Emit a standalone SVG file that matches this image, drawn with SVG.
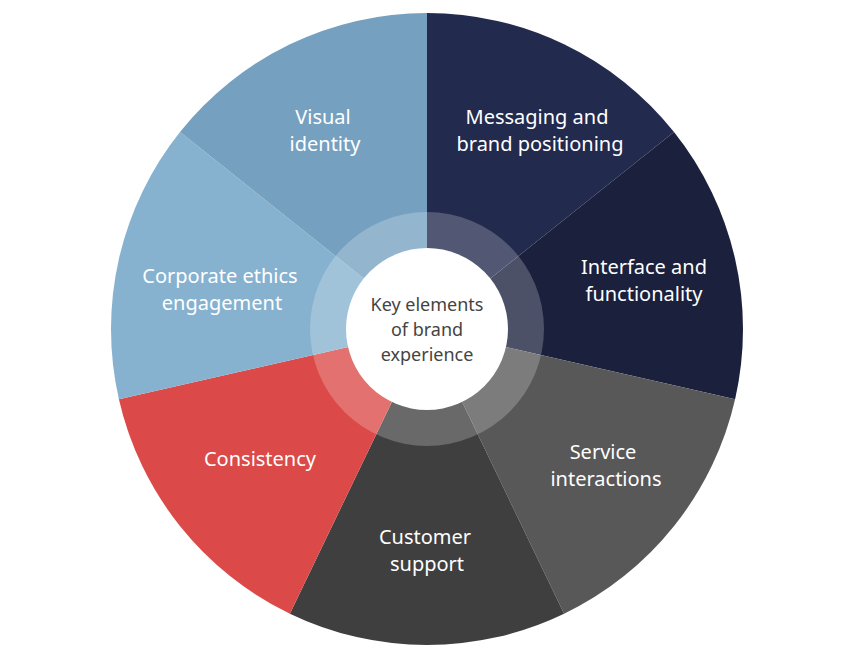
<svg xmlns="http://www.w3.org/2000/svg" width="848" height="653" viewBox="0 0 848 653">
<style>
.l{font-family:"Noto Sans","Open Sans",sans-serif;font-size:20px;fill:#fff;text-anchor:middle}
.c{font-family:"Noto Sans","Open Sans",sans-serif;font-size:18px;fill:#444;text-anchor:middle}
</style>
<rect width="848" height="653" fill="#fff"/>
<g id="seg-messaging"><path d="M427 329 L427 13 A316 316 0 0 1 674 132 Z" fill="#222a4e"/><text class="l" x="537" y="124">Messaging and</text><text class="l" x="540" y="151">brand positioning</text></g>
<g id="seg-interface"><path d="M427 329 L674 132 A316 316 0 0 1 735.1 399.3 Z" fill="#1b203d"/><text class="l" x="644" y="274">Interface and</text><text class="l" x="644" y="301">functionality</text></g>
<g id="seg-service"><path d="M427 329 L735.1 399.3 A316 316 0 0 1 564.1 613.7 Z" fill="#585858"/><text class="l" x="603" y="459">Service</text><text class="l" x="606" y="486">interactions</text></g>
<g id="seg-support"><path d="M427 329 L564.1 613.7 A316 316 0 0 1 289.9 613.7 Z" fill="#3f3f3f"/><text class="l" x="425" y="544">Customer</text><text class="l" x="427" y="571">support</text></g>
<g id="seg-consistency"><path d="M427 329 L289.9 613.7 A316 316 0 0 1 118.9 399.3 Z" fill="#db4a48"/><text class="l" x="260" y="466">Consistency</text></g>
<g id="seg-ethics"><path d="M427 329 L118.9 399.3 A316 316 0 0 1 180 132 Z" fill="#86b2d0"/><text class="l" x="220" y="283">Corporate ethics</text><text class="l" x="222" y="310">engagement</text></g>
<g id="seg-visual"><path d="M427 329 L180 132 A316 316 0 0 1 427 13 Z" fill="#76a0c0"/><text class="l" x="323" y="124">Visual</text><text class="l" x="325" y="151">identity</text></g>
<g id="center"><circle cx="427" cy="329" r="117" fill="#fff" fill-opacity="0.22"/><circle cx="427" cy="329" r="81" fill="#fff"/><text class="c" x="427" y="311">Key elements</text><text class="c" x="427" y="336">of brand</text><text class="c" x="427" y="361">experience</text></g>
<g id="connectors"/>
</svg>
